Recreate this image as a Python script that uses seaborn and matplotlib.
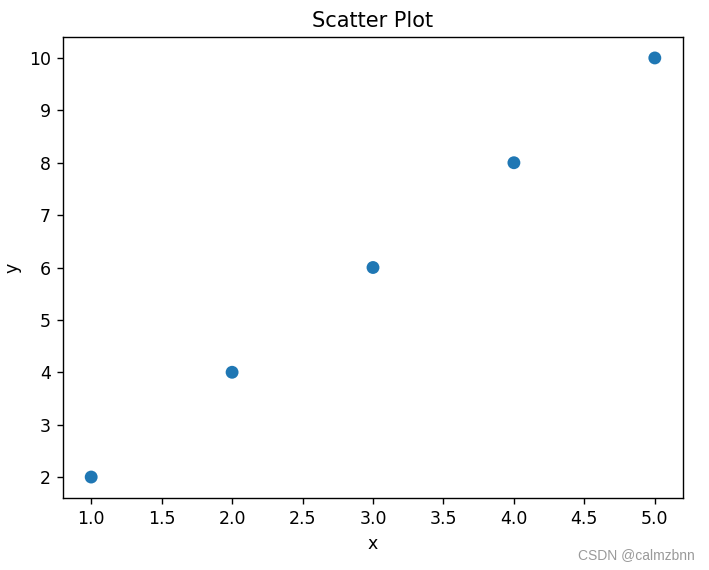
import matplotlib
matplotlib.use("Agg")
import matplotlib.pyplot as plt
import seaborn as sns
import pandas as pd

x = [1, 2, 3, 4, 5]
y = [2, 4, 6, 8, 10]

df = pd.DataFrame({"x": x, "y": y})

fig = plt.figure(figsize=(709 / 125, 570 / 125), dpi=125)
ax = fig.add_axes([63 / 709, 1 - 498 / 570, 620 / 709, 461 / 570])
sns.scatterplot(data=df, x="x", y="y", ax=ax, s=55, color="#1f77b4", edgecolor="none")
ax.set_title("Scatter Plot")
ax.set_xlabel("x")
ax.set_ylabel("y")

# watermark
fig.text(695 / 709, 1 - 555 / 570, "CSDN @calmzbnn", ha="right", va="center",
         fontsize=8, color="#9a9a9a", family="Liberation Sans")

fig.savefig("out.png", dpi=125)
